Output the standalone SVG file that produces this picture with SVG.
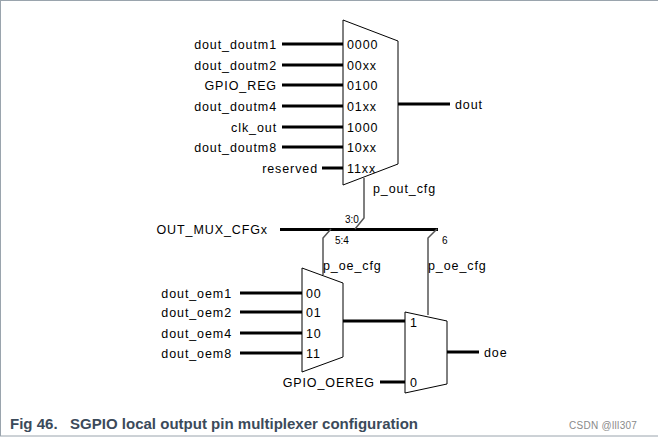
<svg xmlns="http://www.w3.org/2000/svg" width="658" height="442" viewBox="0 0 658 442">
<style>
text{font-family:"Liberation Sans",Arial,sans-serif;font-size:12.5px;letter-spacing:0.9px;fill:#000}
.r{text-anchor:end}
.w{stroke:#000;stroke-width:3}
.mux{fill:#fff;stroke:#000;stroke-width:1}
.sel{fill:none;stroke:#555;stroke-width:1.5}
.s{font-size:10px;letter-spacing:0}
</style>
<rect x="0.5" y="0.5" width="700" height="435.5" fill="#fff" stroke="#9aa4ad"/>
<g id="connectors">
<line class="w" x1="282" y1="44" x2="343" y2="44"/>
<line class="w" x1="282" y1="65" x2="343" y2="65"/>
<line class="w" x1="282" y1="85" x2="343" y2="85"/>
<line class="w" x1="282" y1="106" x2="343" y2="106"/>
<line class="w" x1="282" y1="127" x2="343" y2="127"/>
<line class="w" x1="282" y1="147" x2="343" y2="147"/>
<line class="w" x1="322" y1="168" x2="343" y2="168"/>
<line class="w" x1="398" y1="104" x2="450" y2="104"/>
<line class="w" x1="280" y1="229.5" x2="438" y2="229.5"/>
<polyline class="sel" points="364,178 364,218 355,229"/>
<polyline class="sel" points="331,229 323,238 323,275"/>
<polyline class="sel" points="437,229 428,238 428,315"/>
<line class="w" x1="240" y1="293" x2="302" y2="293"/>
<line class="w" x1="240" y1="312" x2="302" y2="312"/>
<line class="w" x1="240" y1="333" x2="302" y2="333"/>
<line class="w" x1="240" y1="353" x2="302" y2="353"/>
<line class="w" x1="343" y1="321" x2="405" y2="321"/>
<line class="w" x1="380" y1="382" x2="405" y2="382"/>
<line class="w" x1="447" y1="352" x2="479" y2="352"/>
</g>
<g id="mux_out">
<polygon class="mux" points="343,20 398,41 398,164 343,185"/>
<text x="347" y="49">0000</text><text x="347" y="70">00xx</text><text x="347" y="90">0100</text><text x="347" y="111">01xx</text><text x="347" y="132">1000</text><text x="347" y="152">10xx</text><text x="347" y="173">11xx</text>
</g>
<g id="inputs_out">
<text class="r" x="277" y="49">dout_doutm1</text><text class="r" x="277" y="70">dout_doutm2</text><text class="r" x="277" y="90">GPIO_REG</text><text class="r" x="277" y="111">dout_doutm4</text><text class="r" x="277" y="132">clk_out</text><text class="r" x="277" y="152">dout_doutm8</text><text class="r" x="318" y="173">reserved</text>
<text x="455" y="109">dout</text>
<text x="373" y="193">p_out_cfg</text>
<text class="s" x="345" y="223">3:0</text>
</g>
<g id="bus">
<text class="r" x="268" y="234">OUT_MUX_CFGx</text>
<text class="s" x="335" y="244">5:4</text>
<text class="s" x="442" y="244">6</text>
<text x="323" y="270">p_oe_cfg</text>
<text x="428" y="270">p_oe_cfg</text>
</g>
<g id="mux_oe">
<polygon class="mux" points="302,268 343,283 343,357 302,372"/>
<text x="306" y="298">00</text><text x="306" y="317">01</text><text x="306" y="338">10</text><text x="306" y="358">11</text>
<text class="r" x="232" y="298">dout_oem1</text><text class="r" x="232" y="317">dout_oem2</text><text class="r" x="232" y="338">dout_oem4</text><text class="r" x="232" y="358">dout_oem8</text>
</g>
<g id="mux_doe">
<polygon class="mux" points="405,312 447,321 447,384 405,393"/>
<text x="410" y="327">1</text><text x="410" y="387">0</text>
<text class="r" x="375" y="387">GPIO_OEREG</text>
<text x="484" y="357">doe</text>
</g>
<g id="caption">
<text x="10" y="429" xml:space="preserve" textLength="408" lengthAdjust="spacingAndGlyphs" style="font-weight:bold;font-size:14px;letter-spacing:0;fill:#3b4a5a">Fig 46.   SGPIO local output pin multiplexer configuration</text>
<text x="569" y="429" style="font-size:10px;letter-spacing:0.3px;fill:#8a8a8a">CSDN @lll307</text>
</g>
</svg>
